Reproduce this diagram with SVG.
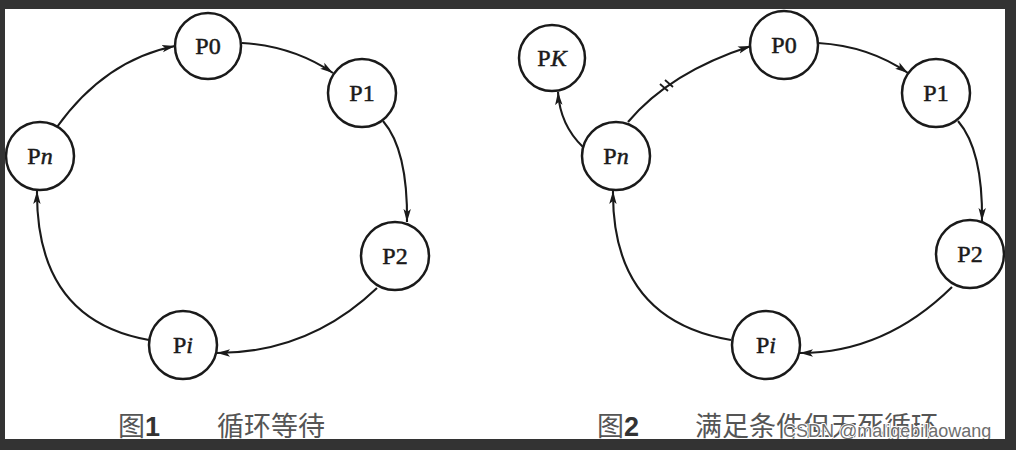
<svg xmlns="http://www.w3.org/2000/svg" width="1016" height="450" viewBox="0 0 1016 450">
  <style>
    .node circle { fill: #ffffff; stroke: #1a1a1a; stroke-width: 2.5; }
    .node text { font-family: "Liberation Serif", "Times New Roman", serif; font-size: 24px; fill: #1a1a1a; text-anchor: middle; stroke: #1a1a1a; stroke-width: 0.5; }
    .node text .it { font-style: italic; }
    .edge { fill: none; stroke: #1a1a1a; stroke-width: 2.1; marker-end: url(#arrow); }
    .tick { stroke: #1a1a1a; stroke-width: 1.8; }
    .cap { font-family: "Noto Sans CJK SC", "Liberation Sans", sans-serif; font-size: 27px; fill: #555555; }
    .capnum { font-family: "Liberation Sans", sans-serif; font-weight: bold; font-size: 27px; fill: #333333; }
    .wm { font-family: "Liberation Sans", "DejaVu Sans", sans-serif; font-size: 18px; fill: #6e6e6e; stroke: #ffffff; stroke-width: 2; paint-order: stroke; }
  </style>
  <defs>
    <marker id="arrow" markerUnits="userSpaceOnUse" markerWidth="15" markerHeight="9" refX="13" refY="4.5" orient="auto">
      <path d="M0,0.8 L13,4.5 L0,8.2 L3,4.5 Z" fill="#1a1a1a"/>
    </marker>
  </defs>

  <rect x="0" y="0" width="1016" height="450" fill="#ffffff"/>

  <!-- connectors -->
  <g id="connectors">
    <!-- figure 1 -->
    <path class="edge" d="M57,127 Q105,60 175,46"/>
    <path class="edge" d="M242,43 Q293,46 333,73"/>
    <path class="edge" d="M383,121 Q408,150 407,222"/>
    <path class="edge" d="M377,288 Q309,353 217,353"/>
    <path class="edge" d="M149,340 Q36,320 37,191"/>
    <!-- figure 2 -->
    <path class="edge" d="M628,122 Q670,72 751,46"/>
    <path class="edge" d="M818,43 Q869,46 908,73"/>
    <path class="edge" d="M958,121 Q983,150 982,221"/>
    <path class="edge" d="M952,287 Q885,353 800,353"/>
    <path class="edge" d="M731,340 Q612,320 613,191"/>
    <path class="edge" d="M583,147 Q560,125 558,92"/>
    <line class="tick" x1="660" y1="84" x2="668" y2="91"/>
    <line class="tick" x1="665" y1="80" x2="673" y2="87"/>
  </g>

  <!-- figure 1 nodes -->
  <g id="f1-P0" class="node"><circle cx="208" cy="46" r="33"/><text x="208" y="54">P0</text></g>
  <g id="f1-P1" class="node"><circle cx="362" cy="93" r="34"/><text x="362" y="101">P1</text></g>
  <g id="f1-P2" class="node"><circle cx="395" cy="256" r="34"/><text x="395" y="264">P2</text></g>
  <g id="f1-Pi" class="node"><circle cx="183" cy="345" r="34"/><text x="183" y="353">P<tspan class="it">i</tspan></text></g>
  <g id="f1-Pn" class="node"><circle cx="40" cy="156" r="34"/><text x="40" y="164">P<tspan class="it">n</tspan></text></g>

  <!-- figure 2 nodes -->
  <g id="f2-PK" class="node"><circle cx="552" cy="58" r="33"/><text x="552" y="66">P<tspan class="it">K</tspan></text></g>
  <g id="f2-Pn" class="node"><circle cx="616" cy="156" r="34"/><text x="616" y="164">P<tspan class="it">n</tspan></text></g>
  <g id="f2-P0" class="node"><circle cx="784" cy="45" r="34"/><text x="784" y="53">P0</text></g>
  <g id="f2-P1" class="node"><circle cx="936" cy="93" r="34"/><text x="936" y="101">P1</text></g>
  <g id="f2-P2" class="node"><circle cx="970" cy="254" r="34"/><text x="970" y="262">P2</text></g>
  <g id="f2-Pi" class="node"><circle cx="766" cy="345" r="34"/><text x="766" y="353">P<tspan class="it">i</tspan></text></g>

  <!-- captions -->
  <g id="captions">
    <text class="cap" x="118" y="436">图<tspan class="capnum">1</tspan></text>
    <text class="cap" x="217" y="436">循环等待</text>
    <text class="cap" x="597" y="436">图<tspan class="capnum">2</tspan></text>
    <text class="cap" x="695" y="436">满足条件但无死循环</text>
    <text class="wm" x="783" y="437">CSDN @maligebilaowang</text>
  </g>

  <!-- dark frame -->
  <path fill="#333333" fill-rule="evenodd" d="M0,0 H1016 V450 H0 Z M5,9 V439 H1005 V9 Z"/>
</svg>
